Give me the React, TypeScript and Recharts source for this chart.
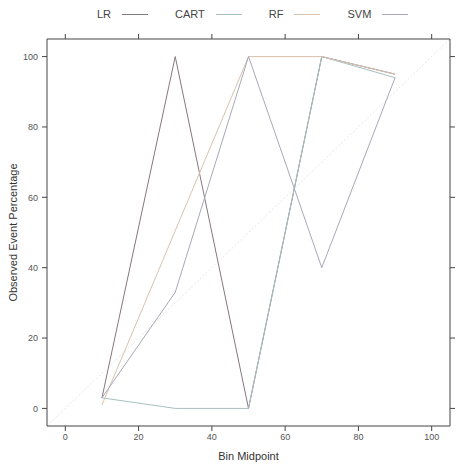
import { Line, LineChart, ReferenceLine, XAxis, YAxis } from 'recharts'

const binMidpoints = [10, 30, 50, 70, 90]
const lrValues = [3, 100, 0, 100, 95]
const cartValues = [3, 0, 0, 100, 94]
const rfValues = [1, 50.5, 100, 100, 95]
const svmValues = [3, 33, 100, 40, 94]
const axisTicks = [0, 20, 40, 60, 80, 100]

// RF only has a point at the bin centres; midpoint at 30 lies on the straight line
const series = [
  { name: 'LR', values: lrValues, color: '#85777f' },
  { name: 'CART', values: cartValues, color: '#a8c0c0' },
  { name: 'RF', values: rfValues, color: '#d9c2ae' },
  { name: 'SVM', values: svmValues, color: '#a8a8b8' },
]

const data = binMidpoints.map((x, i) => ({
  x,
  LR: lrValues[i],
  CART: cartValues[i],
  RF: rfValues[i],
  SVM: svmValues[i],
}))

const font = '"Liberation Sans", Arial, sans-serif'
const tickStyle = { fontSize: 9, fill: '#555', fontFamily: font }
const domain: [number, number] = [-5, 105]

function Legend() {
  return (
    <div
      style={{
        position: 'absolute',
        top: 8,
        left: 97,
        display: 'flex',
        alignItems: 'center',
        gap: 27,
        fontFamily: font,
        fontSize: 11,
        color: '#444',
      }}
    >
      {series.map((s) => (
        <div key={s.name} style={{ display: 'flex', alignItems: 'center', gap: 11 }}>
          <span>{s.name}</span>
          <span style={{ width: 26, height: 0, borderTop: `1px solid ${s.color}` }} />
        </div>
      ))}
    </div>
  )
}

export default function App() {
  return (
    <div style={{ position: 'absolute', left: 0, top: 0, width: 474, height: 474, background: '#fff' }}>
      <LineChart width={474} height={474} data={data} margin={{ top: 38, right: 23, left: 7, bottom: 10 }}>
        <XAxis
          dataKey="x"
          type="number"
          domain={domain}
          ticks={axisTicks}
          allowDataOverflow
          tick={tickStyle}
          tickSize={5}
          tickMargin={3}
          height={38}
          stroke="#444"
          label={{ value: 'Bin Midpoint', position: 'insideBottom', offset: 4, fontSize: 11, fill: '#333', fontFamily: font }}
        />
        <XAxis
          xAxisId="top"
          orientation="top"
          dataKey="x"
          type="number"
          domain={domain}
          ticks={axisTicks}
          allowDataOverflow
          tickFormatter={() => ''}
          tickSize={5}
          height={1}
          stroke="#444"
        />
        <YAxis
          type="number"
          domain={domain}
          ticks={axisTicks}
          allowDataOverflow
          tick={tickStyle}
          tickSize={5}
          tickMargin={4}
          width={40}
          stroke="#444"
          label={{ value: 'Observed Event Percentage', angle: -90, position: 'insideLeft', offset: 6, fontSize: 11, fill: '#333', fontFamily: font, style: { textAnchor: 'middle' } }}
        />
        <YAxis
          yAxisId="right"
          orientation="right"
          type="number"
          domain={domain}
          ticks={axisTicks}
          allowDataOverflow
          tickFormatter={() => ''}
          tickSize={5}
          width={1}
          stroke="#444"
        />
        <ReferenceLine
          segment={[
            { x: -5, y: -5 },
            { x: 105, y: 105 },
          ]}
          stroke="#e6e6e6"
          strokeDasharray="2 2"
          ifOverflow="visible"
        />
        {/* invisible copy so the top and right frame axes get drawn */}
        <Line
          dataKey="LR"
          xAxisId="top"
          yAxisId="right"
          stroke="none"
          dot={false}
          activeDot={false}
          legendType="none"
          isAnimationActive={false}
        />
        {series.map((s) => (
          <Line
            key={s.name}
            dataKey={s.name}
            type="linear"
            stroke={s.color}
            strokeWidth={1}
            dot={false}
            activeDot={false}
            isAnimationActive={false}
          />
        ))}
      </LineChart>
      <Legend />
    </div>
  )
}
